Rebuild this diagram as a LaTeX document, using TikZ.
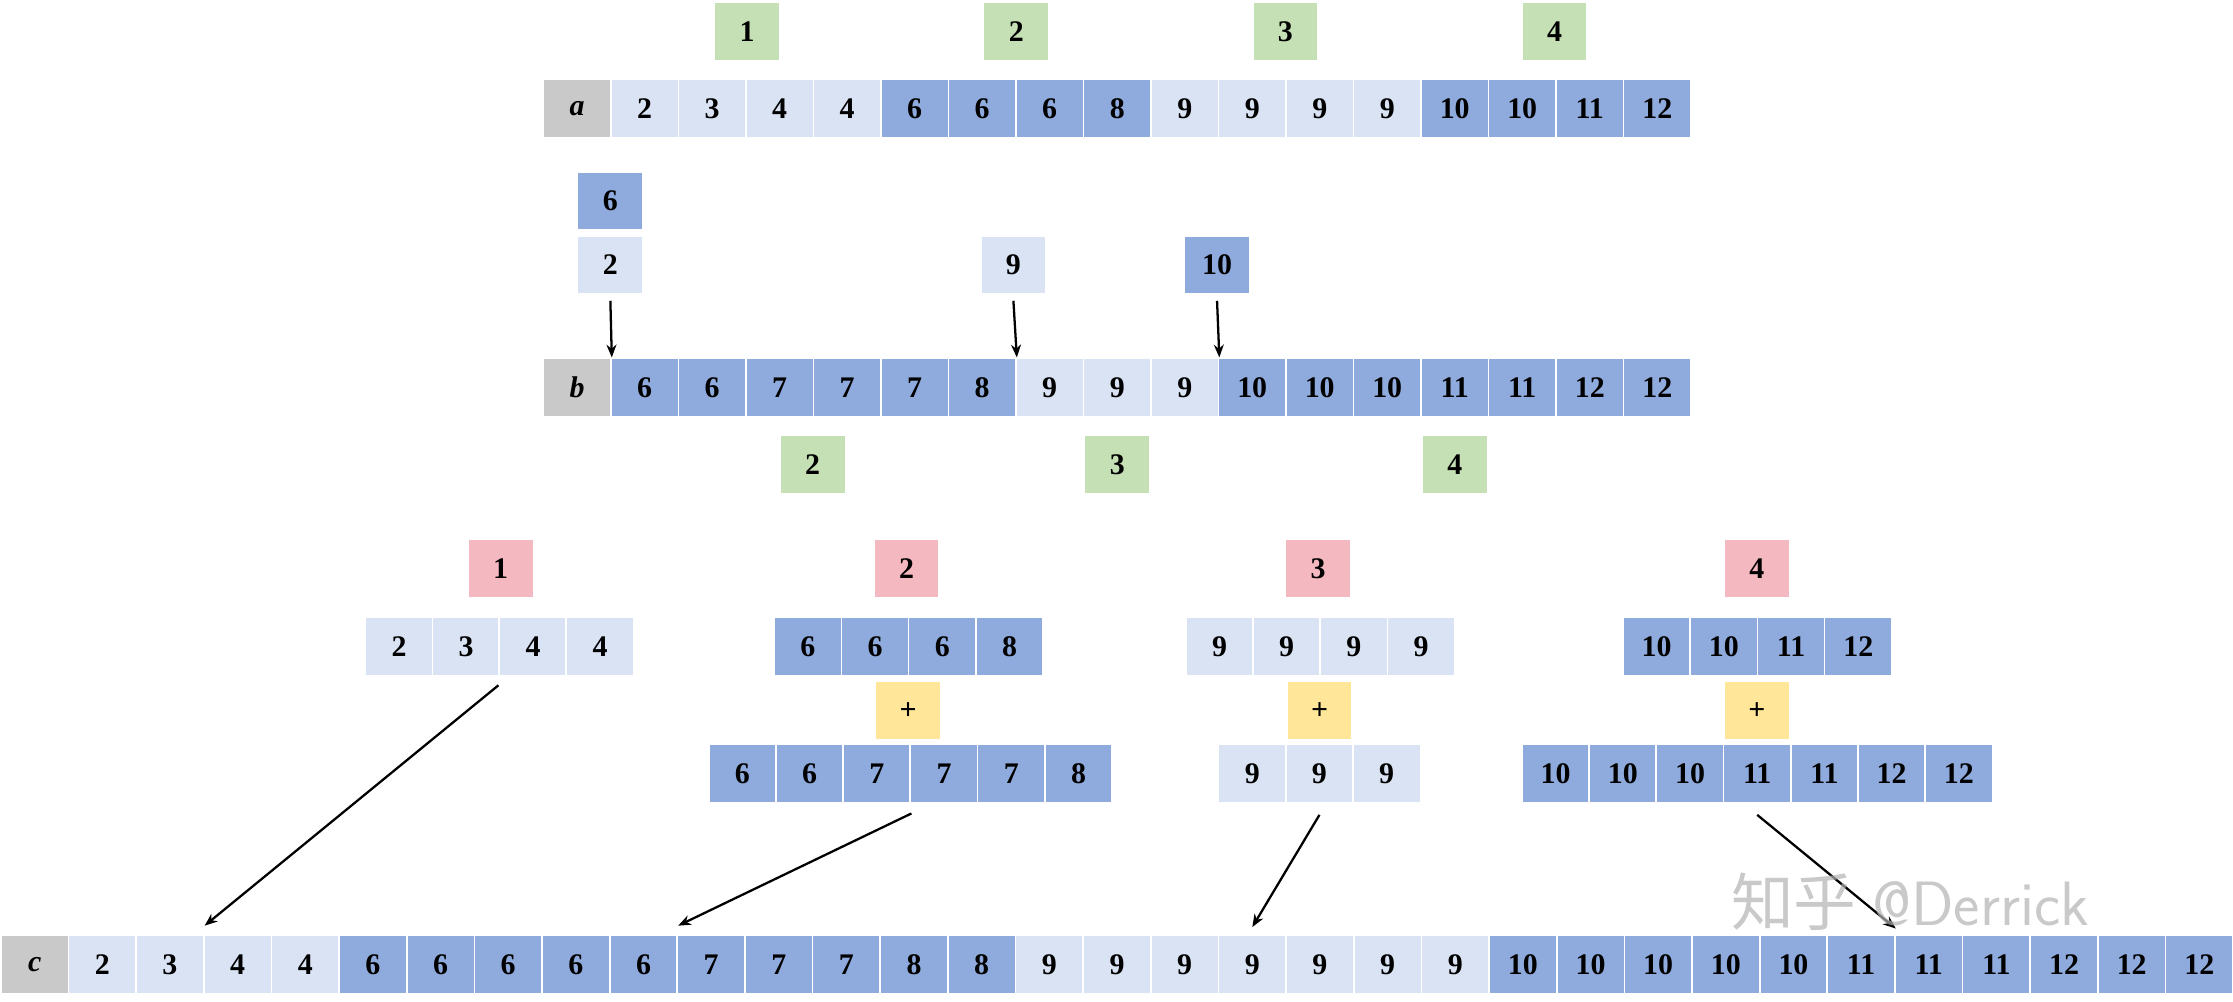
\documentclass[tikz,border=0pt]{standalone}
\usepackage{fontspec}
\setmainfont{Liberation Serif}
\newfontfamily\cjk{Noto Sans CJK SC}
\definecolor{lb}{HTML}{DAE3F3}
\definecolor{db}{HTML}{8FAADC}
\definecolor{gy}{HTML}{C9C9C9}
\definecolor{gr}{HTML}{C5E0B4}
\definecolor{pk}{HTML}{F4B8C0}
\definecolor{yl}{HTML}{FFE699}
\usetikzlibrary{arrows.meta}
\tikzset{cell/.style={draw=white,line width=1.2pt,minimum width=47.4pt,minimum height=41pt,inner sep=0pt,anchor=north west,font=\fontsize{21}{21}\selectfont\bfseries},
lab/.style={cell,minimum width=46pt},
arr/.style={-{Stealth[length=9pt,width=7pt]},line width=1.6pt}}
\begin{document}
\begin{tikzpicture}[x=1pt,y=-1pt]
\useasboundingbox (0,0) rectangle (1568,703);
% row a
\node[cell,fill=gy] (a0) at (381,55) {\itshape a};
\foreach \v/\c [count=\i] in {2/lb,3/lb,4/lb,4/lb,6/db,6/db,6/db,8/db,9/lb,9/lb,9/lb,9/lb,10/db,10/db,11/db,12/db}
  \node[cell,fill=\c] (a\i) at ({381+47.4*\i},55) {\v};
\foreach \x/\t in {501/1,690/2,879/3,1068/4} \node[lab,fill=gr] (ga\t) at (\x,1) {\t};
% row b
\node[cell,fill=gy] (b0) at (381,251) {\itshape b};
\foreach \v/\c [count=\i] in {6/db,6/db,7/db,7/db,7/db,8/db,9/lb,9/lb,9/lb,10/db,10/db,10/db,11/db,11/db,12/db,12/db}
  \node[cell,fill=\c] (b\i) at ({381+47.4*\i},251) {\v};
\node[lab,fill=db] (s6) at (405,120) {6};
\node[lab,fill=lb] (s2) at (405,165) {2};
\node[lab,fill=lb] (s9) at (688,165) {9};
\node[lab,fill=db] (s10) at (831,165) {10};
\draw[arr] ([yshift=-4pt]s2.south) -- (b0.north east);
\draw[arr] ([yshift=-4pt]s9.south) -- (b6.north east);
\draw[arr] ([yshift=-4pt]s10.south) -- (b9.north east);
\foreach \x/\t in {547/2,761/3,998/4} \node[lab,fill=gr] (gb\t) at (\x,305) {\t};
% pink
\foreach \x/\t in {328/1,613/2,902/3,1210/4} \node[lab,fill=pk] (p\t) at (\x,378) {\t};
\foreach \v/\c [count=\i] in {2/lb,3/lb,4/lb,4/lb} \node[cell,fill=\c] (g1\i) at ({256+47*(\i-1)},433) {\v};
\foreach \v/\c [count=\i] in {6/db,6/db,6/db,8/db} \node[cell,fill=\c] (g2\i) at ({543+47.2*(\i-1)},433) {\v};
\foreach \v/\c [count=\i] in {9/lb,9/lb,9/lb,9/lb} \node[cell,fill=\c] (g3\i) at ({832+47.2*(\i-1)},433) {\v};
\foreach \v/\c [count=\i] in {10/db,10/db,11/db,12/db} \node[cell,fill=\c] (g4\i) at ({1139+47.2*(\i-1)},433) {\v};
\foreach \x/\t in {614/2,903/3,1210/4} \node[lab,fill=yl] (pl\t) at (\x,478) {+};
\foreach \v/\c [count=\i] in {6/db,6/db,7/db,7/db,7/db,8/db} \node[cell,fill=\c] (h2\i) at ({497+47.2*(\i-1)},522) {\v};
\foreach \v/\c [count=\i] in {9/lb,9/lb,9/lb} \node[cell,fill=\c] (h3\i) at ({855+47.2*(\i-1)},522) {\v};
\foreach \v/\c [count=\i] in {10/db,10/db,10/db,11/db,11/db,12/db,12/db} \node[cell,fill=\c] (h4\i) at ({1068+47.2*(\i-1)},522) {\v};
% row c
\node[cell,fill=gy,minimum width=47.5pt] (c0) at (0,656) {\itshape c};
\foreach \v/\c [count=\i] in {2/lb,3/lb,4/lb,4/lb,6/db,6/db,6/db,6/db,6/db,7/db,7/db,7/db,8/db,8/db,9/lb,9/lb,9/lb,9/lb,9/lb,9/lb,9/lb,10/db,10/db,10/db,10/db,10/db,11/db,11/db,11/db,12/db,12/db,12/db}
  \node[cell,fill=\c,minimum width=47.5pt] (c\i) at ({47.5*\i},656) {\v};
\draw[arr] ([yshift=-6pt]g13.south west) -- ([yshift=6pt]c2.north east);
\draw[arr] ([yshift=-7pt]h23.south east) -- ([yshift=6pt]c9.north east);
\draw[arr] ([yshift=-8pt]h32.south) -- ([yshift=5pt]c18.north);
\draw[arr] ([yshift=-8pt]h44.south) -- ([yshift=4pt]c27.north east);
\node[text=gray!60,opacity=0.7,font=\fontsize{44}{44}\selectfont,anchor=west] (wm) at (1212,633) {{\cjk 知乎} \textsf{@Derrick}};
\end{tikzpicture}
\end{document}
